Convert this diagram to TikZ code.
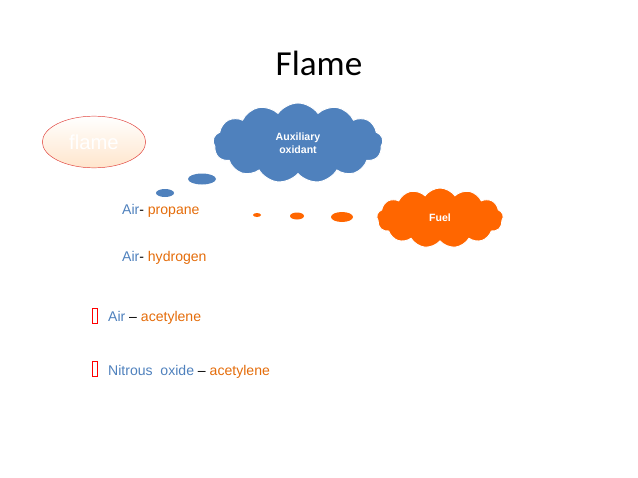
\documentclass[tikz,border=0pt]{standalone}
\usepackage{fontspec}
\setmainfont{Liberation Sans}
\newfontfamily\titlefont{Carlito}
\usetikzlibrary{shapes.symbols,shapes.geometric,positioning}
\definecolor{airblue}{HTML}{4F81BD}
\definecolor{fuelorange}{HTML}{E46C0A}
\definecolor{cloudorange}{HTML}{FF6600}
\definecolor{flamered}{HTML}{E0403A}

\begin{document}
\begin{tikzpicture}[x=0.03cm,y=-0.03cm]
\tikzset{cloudnode/.style={cloud,cloud puffs=13,cloud puff arc=110,aspect=2.2,draw=white,thick,text=white,font=\bfseries\small,align=center,inner sep=1pt},
bubble/.style={ellipse,draw=none,inner sep=0pt},
gasline/.style={anchor=west,font=\large},
bulletbox/.style={draw=red,thick,minimum width=4pt,minimum height=13pt,inner sep=0pt}}
\useasboundingbox (0,0) rectangle (638,478);

\node[font=\titlefont\fontsize{30}{34}\selectfont] (title) at (319,63) {Flame};
\node[ellipse,draw=flamered,top color=white,bottom color=orange!20,minimum width=3.1cm,minimum height=1.55cm,text=white,font=\LARGE] (flame) at (94,142) {flame};

% thought clouds
\node[cloudnode,fill=airblue,minimum width=5.1cm,minimum height=2.4cm] (aux) at (298,143) {Auxiliary\\oxidant};
\node[bubble,fill=airblue,minimum width=0.84cm,minimum height=0.33cm] (b2) at (202,179) {};
\node[bubble,fill=airblue,minimum width=0.54cm,minimum height=0.24cm] (b1) at (165,193) {};
\node[cloudnode,fill=cloudorange,minimum width=3.8cm,minimum height=1.8cm] (fuel) at (440,218) {Fuel};
\node[bubble,fill=cloudorange,minimum width=0.66cm,minimum height=0.3cm] (o3) at (342,217) {};
\node[bubble,fill=cloudorange,minimum width=0.42cm,minimum height=0.21cm] (o2) at (297,216) {};
\node[bubble,fill=cloudorange,minimum width=0.24cm,minimum height=0.12cm] (o1) at (257,215) {};

% gas mixtures
\node[gasline] (l1) at (118,211) {\textcolor{airblue}{Air}- \textcolor{fuelorange}{propane}};
\node[gasline] (l2) at (118,258) {\textcolor{airblue}{Air}- \textcolor{fuelorange}{hydrogen}};
\node[bulletbox] (k3) at (95,316) {};
\node[gasline] (l3) at (104,318) {\textcolor{airblue}{Air} -- \textcolor{fuelorange}{acetylene}};
\node[bulletbox] (k4) at (95,369) {};
\node[gasline] (l4) at (104,372) {\textcolor{airblue}{Nitrous\ \ oxide} -- \textcolor{fuelorange}{acetylene}};
\end{tikzpicture}
\end{document}
